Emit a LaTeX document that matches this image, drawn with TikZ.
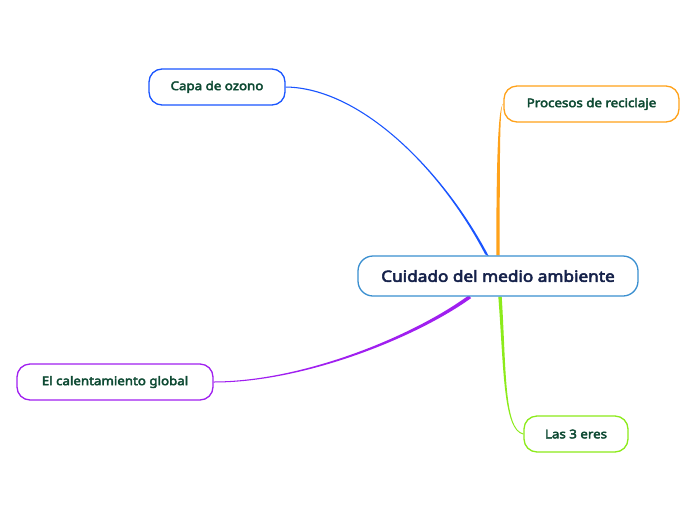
\documentclass[tikz,border=0pt]{standalone}
\usepackage{fontspec}
\setmainfont{Noto Sans}[AutoFakeBold=3.5, FakeStretch=1.11]
\usetikzlibrary{calc,backgrounds}
\definecolor{cblue}{HTML}{1A55FF}
\definecolor{corange}{HTML}{FFA21A}
\definecolor{cpurple}{HTML}{A01FF0}
\definecolor{cgreen}{HTML}{8CEB1A}
\definecolor{ccenter}{HTML}{3A8FD0}
\definecolor{ctext}{HTML}{0E4A33}
\definecolor{cctext}{HTML}{15214A}
\tikzset{
  child/.style={draw=#1, line width=1.3pt, fill=white, rounded corners=13pt,
    minimum height=36pt, inner xsep=8pt, text=ctext,
    font=\fontsize{12pt}{14pt}\selectfont\bfseries},
  centernode/.style={draw=ccenter, line width=1.3pt, fill=white, rounded corners=15pt,
    minimum height=40pt, inner xsep=8pt, text=cctext,
    font=\fontsize{15.5pt}{18pt}\selectfont\bfseries},
}
\begin{document}
\begin{tikzpicture}[x=1pt,y=-1pt]
\begin{scope}[on background layer]
\fill[white] (0,0) rectangle (696,520);
\end{scope}
\useasboundingbox (0,0) rectangle (696,520);
\node[centernode, minimum width=280pt] (c) at (498,276) {Cuidado del medio ambiente};
\node[child=cblue, minimum width=136pt] (oz) at (217,87) {Capa de ozono};
\node[child=corange, minimum width=175pt] (pr) at (591.5,104) {Procesos de reciclaje};
\node[child=cpurple, minimum width=196pt] (ca) at (115,382) {El calentamiento global};
\node[child=cgreen, minimum width=104pt] (tr) at (576,434) {Las 3 eres};
\coordinate (sb) at ($(c.north)+(-11,0)$);
\coordinate (so) at (c.north);
\coordinate (sg) at ($(c.south)+(2,0)$);
\coordinate (sp) at ($(c.south)+(-28,0)$);
\begin{scope}[on background layer]
% blue taper
\fill[cblue] ($(sb)+(1.9,1.1)$) .. controls ($(sb)+(-45,-86)+(1.6,1.0)$) and ($(oz.east)+(75,1)+(0.3,-0.9)$) .. ($(oz.east)+(0,-0.5)$)
  -- ($(oz.east)+(0,0.5)$) .. controls ($(oz.east)+(75,1)+(-0.3,0.9)$) and ($(sb)+(-45,-86)+(-1.6,-1.0)$) .. ($(sb)+(-1.9,-1.1)$) -- cycle;
% orange taper
\fill[corange] ($(so)+(1.7,0)$) .. controls ($(so)+(1.7,-110)$) and ($(pr.west)+(-4,0)+(0.5,0)$) .. ($(pr.west)+(0,-0.5)$)
  -- ($(pr.west)+(0,0.5)$) .. controls ($(pr.west)+(-4,0)+(-0.5,0)$) and ($(so)+(-1.7,-110)$) .. ($(so)+(-1.7,0)$) -- cycle;
% green taper
\fill[cgreen] ($(sg)+(1.7,0)$) .. controls ($(sg)+(5,70)+(1.2,0)$) and ($(tr.west)+(-20,-4)+(0.5,-0.5)$) .. ($(tr.west)+(0,-0.5)$)
  -- ($(tr.west)+(0,0.5)$) .. controls ($(tr.west)+(-20,-4)+(-0.5,0.5)$) and ($(sg)+(5,70)+(-1.2,0)$) .. ($(sg)+(-1.7,0)$) -- cycle;
% purple taper
\fill[cpurple] ($(sp)+(1,1.5)$) .. controls ($(sp)+(-55,40)+(0.8,1.2)$) and ($(ca.east)+(90,0)+(0,0.6)$) .. ($(ca.east)+(0,0.5)$)
  -- ($(ca.east)+(0,-0.5)$) .. controls ($(ca.east)+(90,0)+(0,-0.6)$) and ($(sp)+(-55,40)+(-0.8,-1.2)$) .. ($(sp)+(-1,-1.5)$) -- cycle;
\end{scope}
\end{tikzpicture}
\end{document}
